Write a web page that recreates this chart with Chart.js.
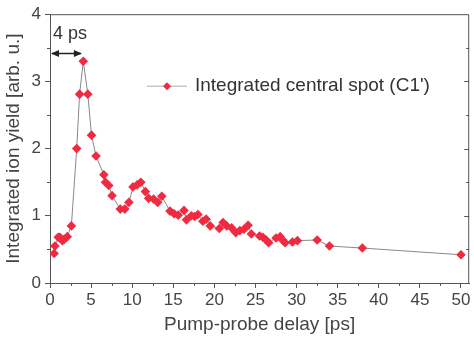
<!DOCTYPE html>
<html>
<head>
<meta charset="utf-8">
<script src="https://cdn.jsdelivr.net/npm/chart.js@4/dist/chart.umd.min.js"></script>
<style>
  body { margin: 0; background: #fff; }
  #wrap { width: 474px; height: 338px; }
</style>
</head>
<body>
<div id="wrap"><canvas id="c1Chart"></canvas></div>
<script>
// pump-probe delay [ps]
const delays = [0.5, 0.6, 1.0, 1.2, 1.5, 1.75, 2.1, 2.6, 3.25, 3.6, 4.05, 4.6, 5.05, 5.6,
  6.55, 6.75, 7.15, 7.55, 8.55, 9.1, 9.6, 10.1, 10.6, 11.05, 11.6, 12.0, 12.6, 13.1, 13.6,
  14.6, 15.1, 15.6, 16.3, 16.6, 17.2, 17.6, 18.0, 18.6, 19.0, 19.5, 20.6, 21.05, 21.5, 22.1,
  22.6, 23.1, 23.6, 24.1, 24.5, 25.5, 25.9, 26.3, 26.6, 27.5, 28.0, 28.3, 28.6, 29.5, 30.1,
  32.5, 34.0, 38.0, 50.0];
// integrated ion yield [arb. u.]
const yields = [0.44, 0.55, 0.68, 0.68, 0.63, 0.65, 0.69, 0.85, 2.0, 2.81, 3.3, 2.81, 2.2, 1.89,
  1.61, 1.50, 1.45, 1.30, 1.10, 1.10, 1.20, 1.43, 1.46, 1.50, 1.36, 1.26, 1.25, 1.20, 1.29,
  1.07, 1.03, 1.01, 1.08, 0.94, 1.00, 0.99, 1.02, 0.92, 0.95, 0.85, 0.81, 0.90, 0.85, 0.82,
  0.75, 0.78, 0.80, 0.86, 0.73, 0.70, 0.68, 0.64, 0.60, 0.67, 0.69, 0.64, 0.60, 0.61, 0.63,
  0.64, 0.55, 0.52, 0.42];

const xTicks = [0, 5, 10, 15, 20, 25, 30, 35, 40, 45, 50];
const yTicks = [0, 1, 2, 3, 4];
const seriesLabel = "Integrated central spot (C1')";
const xTitle = "Pump-probe delay [ps]";
const yTitle = "Integrated ion yield [arb. u.]";
const peakWidth = [0, 4];   // the "4 ps" arrow
const peakLabel = "4 ps";

const RED = "#f02a40";
const AXIS = "#555";
const TEXT = "#444";
const FONT = "'Liberation Sans', Arial, sans-serif";

const points = delays.map((d, i) => ({ x: d, y: yields[i] }));

// frame, minor ticks, legend and the 4 ps arrow
const extras = {
  id: "extras",
  afterDraw(chart) {
    const { ctx, chartArea: a, scales: { x, y } } = chart;
    ctx.save();
    ctx.strokeStyle = AXIS;
    ctx.lineWidth = 1;
    // top + right border
    ctx.beginPath();
    ctx.moveTo(a.left, a.top + 0.5);
    ctx.lineTo(a.right - 0.5, a.top + 0.5);
    ctx.lineTo(a.right - 0.5, a.bottom);
    ctx.stroke();
    // minor x ticks
    ctx.beginPath();
    for (let i = 0; i < xTicks.length - 1; i++) {
      const px = Math.round(x.getPixelForValue((xTicks[i] + xTicks[i + 1]) / 2)) + 0.5;
      ctx.moveTo(px, a.bottom);
      ctx.lineTo(px, a.bottom + 3);
    }
    // minor y ticks (left) and all y ticks on the right
    for (let v = 0.5; v < 4; v += 0.5) {
      const py = Math.round(y.getPixelForValue(v)) + 0.5;
      if (v % 1 !== 0) {
        ctx.moveTo(a.left, py);
        ctx.lineTo(a.left - 3, py);
      }
      ctx.moveTo(a.right, py);
      ctx.lineTo(a.right - (v % 1 === 0 ? 5 : 3), py);
    }
    ctx.stroke();

    // legend
    const lx = a.left + 97, ly = a.top + 72;
    ctx.strokeStyle = "#aaa";
    ctx.beginPath();
    ctx.moveTo(lx, ly);
    ctx.lineTo(lx + 40, ly);
    ctx.stroke();
    ctx.fillStyle = RED;
    ctx.beginPath();
    ctx.moveTo(lx + 20, ly - 4);
    ctx.lineTo(lx + 24, ly);
    ctx.lineTo(lx + 20, ly + 4);
    ctx.lineTo(lx + 16, ly);
    ctx.closePath();
    ctx.fill();
    ctx.fillStyle = "#333";
    ctx.font = "19px " + FONT;
    ctx.textBaseline = "middle";
    ctx.fillText(seriesLabel, lx + 48, ly);

    // 4 ps arrow
    const x0 = x.getPixelForValue(peakWidth[0]);
    const x1 = x.getPixelForValue(peakWidth[1]);
    const ay = Math.round(y.getPixelForValue(3.43)) + 0.5;
    ctx.strokeStyle = "#222";
    ctx.fillStyle = "#222";
    ctx.lineWidth = 1.5;
    ctx.beginPath();
    ctx.moveTo(x0 + 2, ay);
    ctx.lineTo(x1 - 2, ay);
    ctx.stroke();
    ctx.beginPath();
    ctx.moveTo(x0 + 1, ay); ctx.lineTo(x0 + 9, ay - 3.5); ctx.lineTo(x0 + 9, ay + 3.5); ctx.closePath();
    ctx.moveTo(x1 - 1, ay); ctx.lineTo(x1 - 9, ay - 3.5); ctx.lineTo(x1 - 9, ay + 3.5); ctx.closePath();
    ctx.fill();
    ctx.fillStyle = "#333";
    ctx.font = "18px " + FONT;
    ctx.textBaseline = "middle";
    ctx.fillText(peakLabel, x0 + 3, y.getPixelForValue(3.7));
    ctx.restore();
  }
};

new Chart(document.getElementById("c1Chart"), {
  type: "line",
  data: {
    datasets: [{
      label: seriesLabel,
      data: points,
      borderColor: "#888",
      borderWidth: 1,
      tension: 0,
      pointStyle: "rectRot",
      pointRadius: 4.8,
      pointBorderWidth: 0,
      pointBackgroundColor: RED,
      pointBorderColor: RED
    }]
  },
  options: {
    responsive: true,
    maintainAspectRatio: false,
    animation: false,
    layout: { padding: { top: 9, right: 3, left: 0, bottom: 0 } },
    plugins: { legend: { display: false }, tooltip: { enabled: false } },
    scales: {
      x: {
        type: "linear",
        min: 0,
        max: 51,
        afterFit: s => { s.height = 55; },
        afterBuildTicks: s => { s.ticks = xTicks.map(v => ({ value: v })); },
        ticks: { color: TEXT, font: { family: FONT, size: 17 }, padding: 2, maxRotation: 0, autoSkip: false },
        grid: { drawOnChartArea: false, tickLength: 5, tickColor: AXIS },
        border: { color: AXIS, width: 1 },
        title: { display: true, text: xTitle, color: TEXT, font: { family: FONT, size: 19 }, padding: { top: 0, bottom: 2 } }
      },
      y: {
        min: 0,
        max: 4,
        afterFit: s => { s.width = 50; },
        afterBuildTicks: s => { s.ticks = yTicks.map(v => ({ value: v })); },
        ticks: { color: TEXT, font: { family: FONT, size: 17 }, padding: 4 },
        grid: { drawOnChartArea: false, tickLength: 5, tickColor: AXIS },
        border: { color: AXIS, width: 1 },
        title: { display: true, text: yTitle, color: TEXT, font: { family: FONT, size: 19 }, padding: { top: 2, bottom: 0 } }
      }
    }
  },
  plugins: [extras]
});
</script>
</body>
</html>
